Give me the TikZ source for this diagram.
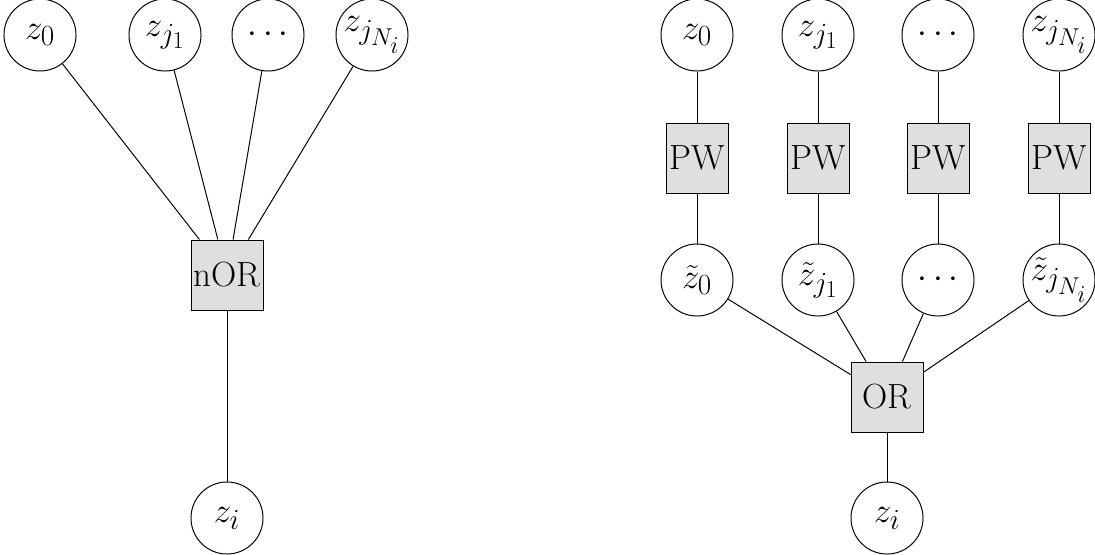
\documentclass[tikz,border=0pt]{standalone}
\begin{document}
\begin{tikzpicture}[x=0.025cm,y=-0.025cm,line width=0.7pt,
  v/.style={circle,draw,minimum size=1.8cm,inner sep=0pt,font=\Huge},
  f/.style={rectangle,draw,fill=gray!25,minimum width=1.8cm,minimum height=1.75cm,inner sep=0pt,font=\Huge},
  pw/.style={f,minimum width=1.55cm}]
\useasboundingbox (0,0) rectangle (1095,554);
\node[v] (a0) at (40,35) {$z_0$};
\node[v] (a1) at (165,35) {$z_{j_1}$};
\node[v] (a2) at (268,35) {$\cdots$};
\node[v] (a3) at (372,35) {$z_{j_{N_i}}$};
\node[f] (nor) at (227,275) {nOR};
\node[v] (ai) at (227,518) {$z_i$};
\foreach \n in {a0,a1,a2,a3} \draw (\n) -- (nor);
\draw (nor) -- (ai);
\foreach \x/\i/\t/\tt in {697/0/{z_0}/{\tilde z_0},818/1/{z_{j_1}}/{\tilde z_{j_1}},938/2/{\cdots}/{\cdots},1059/3/{z_{j_{N_i}}}/{\tilde z_{j_{N_i}}}}{
  \node[v] (b\i) at (\x,35) {$\t$};
  \node[pw] (p\i) at (\x,158) {PW};
  \node[v] (c\i) at (\x,280) {$\tt$};
  \draw (b\i) -- (p\i) -- (c\i);
}
\node[f] (or) at (887,397) {OR};
\node[v] (bi) at (887,518) {$z_i$};
\foreach \i in {0,1,2,3} \draw (c\i) -- (or);
\draw (or) -- (bi);
\end{tikzpicture}
\end{document}
